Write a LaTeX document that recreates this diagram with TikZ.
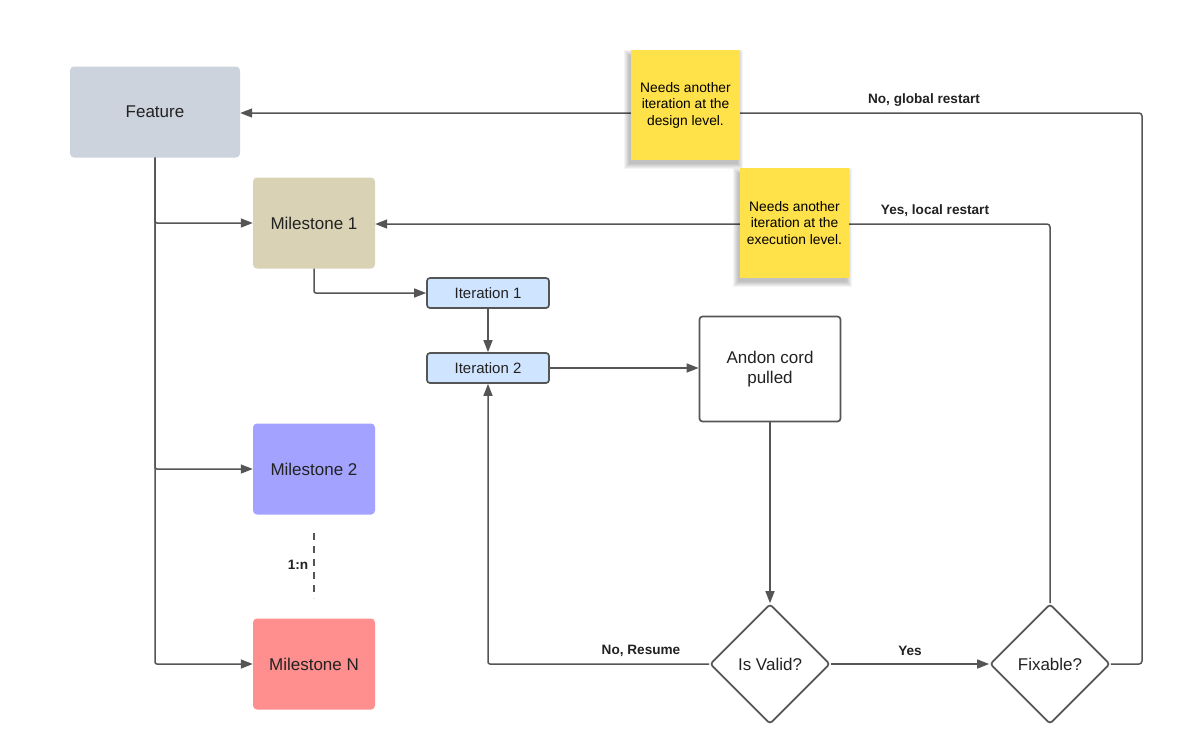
\documentclass[tikz,border=0pt]{standalone}
\usepackage{fontspec}
\setmainfont{Liberation Sans}
\usetikzlibrary{shapes.geometric,arrows.meta}
\definecolor{linec}{HTML}{555555}
\definecolor{txt}{HTML}{222222}
\definecolor{featc}{HTML}{CDD3DC}
\definecolor{m1c}{HTML}{D9D2B5}
\definecolor{m2c}{HTML}{A3A3FF}
\definecolor{mnc}{HTML}{FF8E8E}
\definecolor{iterc}{HTML}{CFE4FF}
\definecolor{stickyc}{HTML}{FFE14A}
\tikzset{
  blockbox/.style={rectangle, rounded corners=4pt, minimum width=122pt, minimum height=91pt, font=\fontsize{17}{20}\selectfont, text=txt, inner sep=0pt},
  iterbox/.style={rectangle, rounded corners=3pt, draw=linec, line width=1.7pt, fill=iterc, minimum width=122pt, minimum height=30pt, font=\fontsize{15}{18}\selectfont, text=txt, inner sep=0pt},
  plainbox/.style={rectangle, rounded corners=3pt, draw=linec, line width=1.7pt, fill=white, minimum width=141pt, minimum height=105pt, font=\fontsize{17}{20}\selectfont, text=txt, align=center, inner sep=0pt},
  decision/.style={diamond, aspect=1, rounded corners=3pt, draw=linec, line width=1.7pt, fill=white, minimum width=120pt, minimum height=120pt, font=\fontsize{17}{20}\selectfont, text=txt, inner sep=0pt},
  sticky/.style={rectangle, fill=stickyc, minimum width=109pt, minimum height=110pt, font=\fontsize{13.8}{16.5}\selectfont, align=center, text=black, inner sep=0pt},
  shadowlayer/.style={fill=black, opacity=0.045},
  conn/.style={draw=linec, line width=1.5pt, -{Triangle[length=12pt,width=9pt]}},
  plainline/.style={draw=linec, line width=1.5pt},
  lab/.style={font=\bfseries\fontsize{13.6}{16}\selectfont, text=txt, inner sep=0pt}
}
\begin{document}
\begin{tikzpicture}[x=1pt,y=-1pt]
\useasboundingbox (0,0) rectangle (1200,729);
\fill[white] (0,0) rectangle (1200,729);

% nodes
\node[blockbox, fill=featc, minimum width=170pt] (feat) at (155,112) {Feature};
\node[blockbox, fill=m1c] (m1) at (314,223) {Milestone 1};
\node[blockbox, fill=m2c] (m2) at (314,469) {Milestone 2};
\node[blockbox, fill=mnc] (mn) at (314,664) {Milestone N};
\node[iterbox] (it1) at (488,293) {Iteration 1};
\node[iterbox] (it2) at (488,368) {Iteration 2};
\node[plainbox] (andon) at (770,369) {Andon cord\\pulled};
\node[decision] (valid) at (770,664) {Is Valid?};
\node[decision] (fix) at (1050,664) {Fixable?};

% corner coordinates
\coordinate (gr) at (1142,113);
\coordinate (grb) at (1142,664);
\coordinate (lr) at (1050,224);
\coordinate (nr) at (488,664);

% connectors
\draw[conn, rounded corners=2pt] (feat.south) |- (m1.west);
\draw[conn, rounded corners=2pt] (feat.south) |- (m2.west);
\draw[conn, rounded corners=2pt] (feat.south) |- (mn.west);
\draw[conn, rounded corners=2pt] (m1.south) |- (it1.west);
\draw[conn] (it1.south) -- (it2.north);
\draw[conn] (it2.east) -- (andon.west |- it2.east);
\draw[conn] (andon.south) -- (valid.north);
\draw[conn, rounded corners=2pt] (valid.west) -- (nr) -- (it2.south);
\draw[conn] (valid.east) -- (fix.west);
\draw[conn, rounded corners=3pt] (fix.north) -- (lr) -- (m1.east |- lr);
\draw[conn, rounded corners=3pt] (fix.east) -- (grb) -- (gr) -- (feat.east |- gr);

% dashed
\coordinate (d1) at (314,533);
\coordinate (d2) at (314,598);
\draw[plainline, dash pattern=on 7pt off 6pt] (d1) -- (d2);

% labels
\node[lab] (l1n) at (298,565) {1:n};
\node[lab] (lnr) at (641,651) {No, Resume};
\node[lab] (lyes) at (910,651) {Yes};
\node[lab] (lloc) at (935,211) {Yes, local restart};
\node[lab] (lglob) at (924,100) {No, global restart};

% sticky shadows (soft)
\foreach \d in {0,1,2,3,4,5} {
  \fill[shadowlayer] (631-2-\d,50+5-\d) rectangle (740-2+\d,160+4+\d);
  \fill[shadowlayer] (740-2-\d,168+5-\d) rectangle (849-2+\d,278+4+\d);
}
% stickies
\node[sticky] (s1) at (685.5,105) {Needs another\\iteration at the\\design level.};
\node[sticky] (s2) at (794.5,223) {Needs another\\iteration at the\\execution level.};
\end{tikzpicture}
\end{document}
